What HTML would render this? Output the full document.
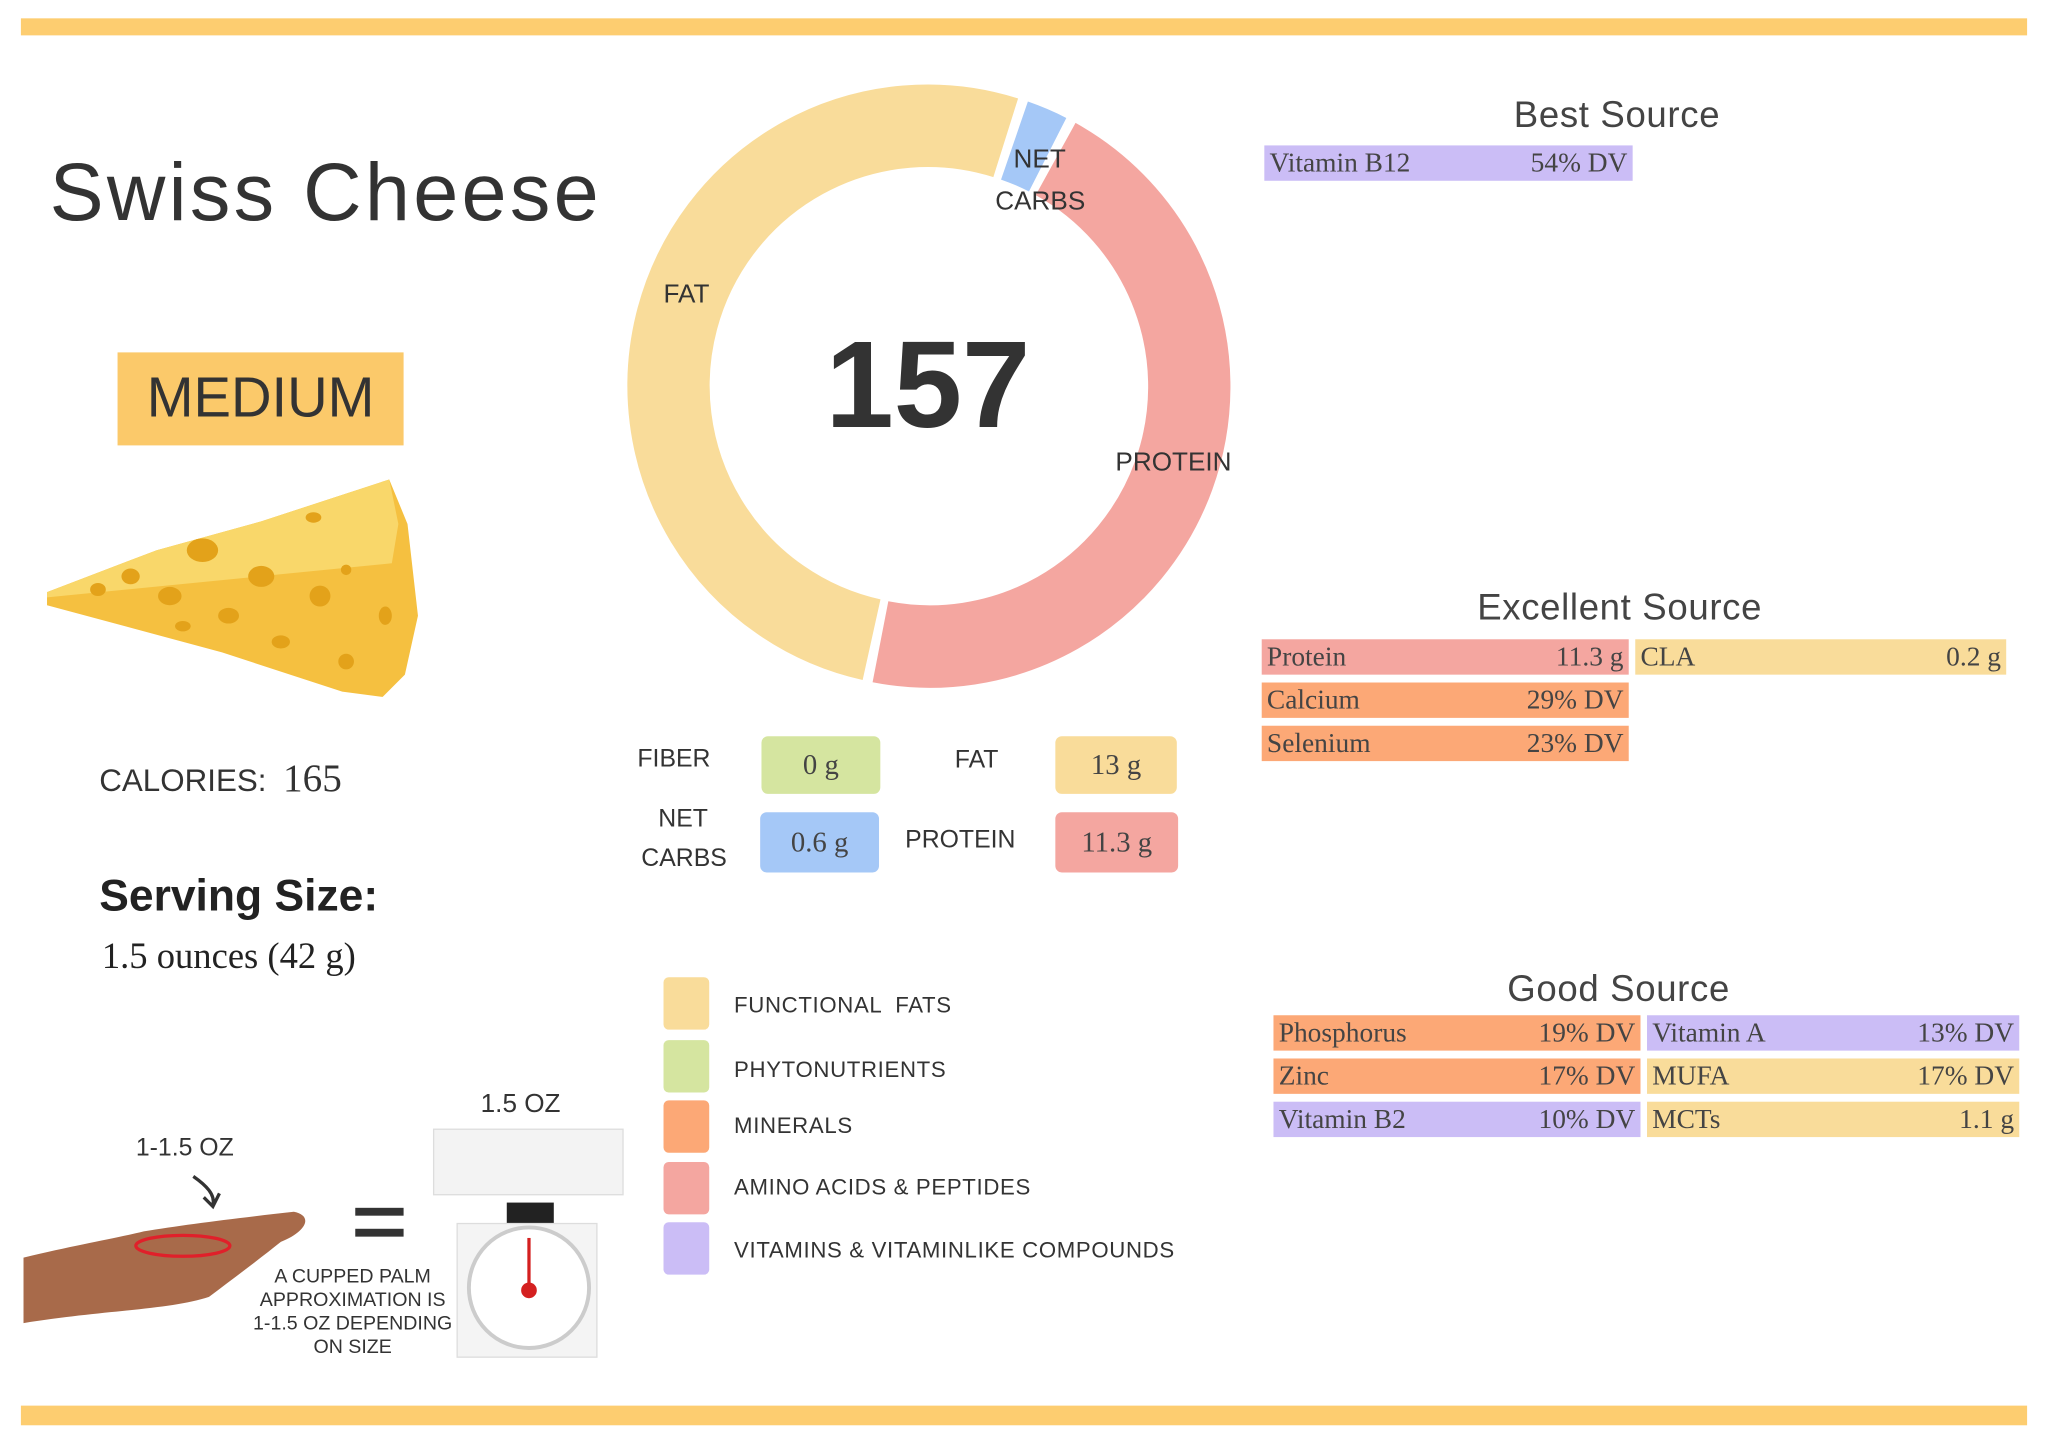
<!DOCTYPE html>
<html><head><meta charset="utf-8"><style>
html,body{margin:0;padding:0;background:#fff;width:2048px;height:1441px;overflow:hidden}
#c{position:absolute;left:0;top:0;width:1568px;height:1100px;transform-origin:0 0;transform:scale(1.30612,1.31);font-family:"Liberation Sans",sans-serif;color:#333}
.a{position:absolute;white-space:nowrap}
.bar{position:absolute;height:27px;font-family:"Liberation Serif",serif;font-size:21px;line-height:27px;color:#444}
.bar span{position:absolute;right:4px;top:0}
.bar b{font-weight:normal;position:absolute;left:4px;top:0}
.box{position:absolute;border-radius:5px;font-family:"Liberation Serif",serif;font-size:22px;text-align:center;color:#444}
.lg{position:absolute;left:508px;width:35px;height:40px;border-radius:4px}
.lt{position:absolute;left:562px;font-size:17px;color:#333;letter-spacing:.5px}
.h{position:absolute;font-size:28px;color:#444;letter-spacing:.5px}
</style></head><body><div id="c">
<div class="a" style="left:16px;top:14px;width:1536px;height:13px;background:#fdcd70"></div>
<div class="a" style="left:16px;top:1073px;width:1536px;height:15px;background:#fdcd70"></div>
<div class="a" style="left:38px;top:112px;font-size:62px;color:#333;letter-spacing:2.5px">Swiss Cheese</div>
<div class="a" style="left:90px;top:269px;width:219px;height:71px;background:#fbc96a;font-size:43px;line-height:71px;text-align:center;color:#333">MEDIUM</div>
<svg class="a" style="left:0;top:0" width="1568" height="1100">
<polygon points="36,452 120,420 200,398 298,366 312,400 320,470 310,515 293,532 262,528 170,498 36,462" fill="#f5c040"/>
<polygon points="36,452 120,420 200,398 298,366 305,400 300,430 36,456" fill="#f9d76a"/>
<g fill="#e3a21a"><ellipse cx="200" cy="440" rx="10" ry="8"/><ellipse cx="155" cy="420" rx="12" ry="9"/><ellipse cx="245" cy="455" rx="8" ry="8"/><ellipse cx="100" cy="440" rx="7" ry="6"/><ellipse cx="130" cy="455" rx="9" ry="7"/><ellipse cx="175" cy="470" rx="8" ry="6"/><ellipse cx="215" cy="490" rx="7" ry="5"/><ellipse cx="75" cy="450" rx="6" ry="5"/><ellipse cx="265" cy="505" rx="6" ry="6"/><ellipse cx="295" cy="470" rx="5" ry="7"/><ellipse cx="240" cy="395" rx="6" ry="4"/><ellipse cx="265" cy="435" rx="4" ry="4"/><ellipse cx="140" cy="478" rx="6" ry="4"/></g>
<g fill="none" stroke-width="63">
<path d="M667.3,488.3 A198.5,198.5 0 1 1 770,105.2" stroke="#f9dc9a"/>
<path d="M776.7,107.3 A198.5,198.5 0 0 1 802.1,118.1" stroke="#a5c8f7"/>
<path d="M808.2,121.4 A198.5,198.5 0 0 1 674.1,489.9" stroke="#f4a6a0"/>
</g>
<path d="M18,960 C60,950 90,945 110,940 C140,935 180,930 225,925 C240,928 235,940 215,948 C200,960 180,975 160,990 C130,1000 80,1000 18,1010 Z" fill="#a86a4a"/>
<ellipse cx="140" cy="951" rx="36" ry="8" fill="none" stroke="#e0202a" stroke-width="2.5"/>
<path d="M148,898 C158,905 165,912 163,920 M156,914 L163,921 L168,911" fill="none" stroke="#333" stroke-width="2.5"/>
<rect x="272" y="922" width="37" height="6" fill="#333"/><rect x="272" y="938" width="37" height="6" fill="#333"/>
<rect x="332" y="862" width="145" height="50" fill="#f3f3f3" stroke="#ddd"/>
<rect x="388" y="918" width="36" height="16" fill="#222"/>
<rect x="350" y="934" width="107" height="102" fill="#f4f4f4" stroke="#ddd"/>
<circle cx="405" cy="983" r="46" fill="#fff" stroke="#ccc" stroke-width="3"/>
<line x1="405" y1="985" x2="405" y2="945" stroke="#d42020" stroke-width="2.5"/><circle cx="405" cy="985" r="6" fill="#d42020"/>
</svg>
<div class="a" style="left:104px;top:866px;font-size:19px">1-1.5 OZ</div>
<div class="a" style="left:368px;top:832px;font-size:20px">1.5 OZ</div>
<div class="a" style="left:170px;top:966px;width:200px;font-size:15px;line-height:18px;text-align:center">A CUPPED PALM<br>APPROXIMATION IS<br>1-1.5 OZ DEPENDING<br>ON SIZE</div>
<div class="a" style="left:76px;top:578px;font-size:24px">CALORIES: <span style="font-family:'Liberation Serif',serif;font-size:30px;margin-left:6px">165</span></div>
<div class="a" style="left:76px;top:665px;font-size:34px;font-weight:bold;color:#222">Serving Size:</div>
<div class="a" style="left:78px;top:715px;font-size:28px;font-family:'Liberation Serif',serif;color:#222">1.5 ounces (42 g)</div>
<div class="a" style="left:632px;top:240px;font-size:94px;font-weight:bold;color:#333">157</div>
<div class="a" style="left:508px;top:214px;font-size:20px">FAT</div>
<div class="a" style="left:776px;top:111px;font-size:20px">NET</div>
<div class="a" style="left:762px;top:143px;font-size:20px">CARBS</div>
<div class="a" style="left:854px;top:342px;font-size:20px">PROTEIN</div>
<div class="a" style="left:488px;top:569px;font-size:19px">FIBER</div>
<div class="a" style="left:731px;top:570px;font-size:19px">FAT</div>
<div class="a" style="left:504px;top:615px;font-size:19px">NET</div>
<div class="a" style="left:491px;top:645px;font-size:19px">CARBS</div>
<div class="a" style="left:693px;top:631px;font-size:19px">PROTEIN</div>
<div class="box" style="left:583px;top:562px;width:91px;height:44px;line-height:44px;background:#d5e5a0">0 g</div>
<div class="box" style="left:808px;top:562px;width:93px;height:44px;line-height:44px;background:#f9dc9a">13 g</div>
<div class="box" style="left:582px;top:620px;width:91px;height:46px;line-height:46px;background:#a5c8f7">0.6 g</div>
<div class="box" style="left:808px;top:620px;width:94px;height:46px;line-height:46px;background:#f4a6a0">11.3 g</div>
<div class="lg" style="top:746px;background:#f9dc9a"></div>
<div class="lg" style="top:794px;background:#d5e5a0"></div>
<div class="lg" style="top:840px;background:#fca876"></div>
<div class="lg" style="top:887px;background:#f4a6a0"></div>
<div class="lg" style="top:933px;background:#cbbdf6"></div>
<div class="lt" style="top:758px">FUNCTIONAL &nbsp;FATS</div>
<div class="lt" style="top:807px">PHYTONUTRIENTS</div>
<div class="lt" style="top:850px">MINERALS</div>
<div class="lt" style="top:897px">AMINO ACIDS &amp; PEPTIDES</div>
<div class="lt" style="top:945px">VITAMINS &amp; VITAMINLIKE COMPOUNDS</div>
<div class="h" style="left:1159px;top:72px">Best Source</div>
<div class="bar" style="left:968px;top:111px;width:282px;background:#cbbdf6"><b>Vitamin B12</b><span>54% DV</span></div>
<div class="h" style="left:1131px;top:448px">Excellent Source</div>
<div class="bar" style="left:966px;top:488px;width:281px;background:#f4a6a0"><b>Protein</b><span>11.3 g</span></div>
<div class="bar" style="left:1252px;top:488px;width:284px;background:#f9dc9a"><b>CLA</b><span>0.2 g</span></div>
<div class="bar" style="left:966px;top:521px;width:281px;background:#fca876"><b>Calcium</b><span>29% DV</span></div>
<div class="bar" style="left:966px;top:554px;width:281px;background:#fca876"><b>Selenium</b><span>23% DV</span></div>
<div class="h" style="left:1154px;top:739px">Good Source</div>
<div class="bar" style="left:975px;top:775px;width:281px;background:#fca876"><b>Phosphorus</b><span>19% DV</span></div>
<div class="bar" style="left:1261px;top:775px;width:285px;background:#cbbdf6"><b>Vitamin A</b><span>13% DV</span></div>
<div class="bar" style="left:975px;top:808px;width:281px;background:#fca876"><b>Zinc</b><span>17% DV</span></div>
<div class="bar" style="left:1261px;top:808px;width:285px;background:#f9dc9a"><b>MUFA</b><span>17% DV</span></div>
<div class="bar" style="left:975px;top:841px;width:281px;background:#cbbdf6"><b>Vitamin B2</b><span>10% DV</span></div>
<div class="bar" style="left:1261px;top:841px;width:285px;background:#f9dc9a"><b>MCTs</b><span>1.1 g</span></div>
</div></body></html>
